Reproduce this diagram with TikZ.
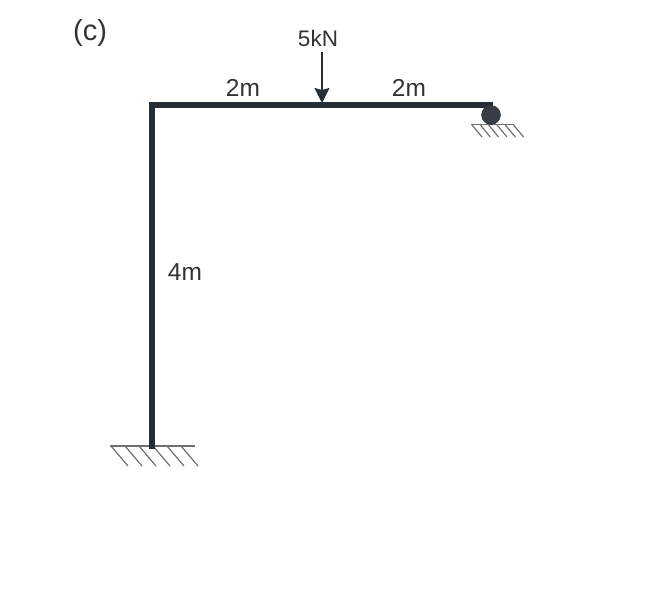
\documentclass[tikz,border=0pt]{standalone}
\usepackage{fontspec}
\setmainfont{Liberation Sans}
\usetikzlibrary{arrows.meta}
\definecolor{beamcol}{HTML}{262D35}
\definecolor{labelcol}{HTML}{333333}
\definecolor{hatchcol}{HTML}{707070}
\tikzset{
  frame/.style={line width=5.5pt,draw=beamcol,line cap=rect},
  hatch/.style={line width=1.2pt,draw=hatchcol},
  lab/.style={text=labelcol,inner sep=0pt,font=\fontsize{24.5}{24}\selectfont},
}
\begin{document}
\begin{tikzpicture}[x=1pt,y=-1pt]
\def\l{15pt}
\def\w{15pt}
\useasboundingbox (0,0) rectangle (652,589);
\coordinate (base) at (152,446);
\coordinate (corner) at (152,105);
\coordinate (tip) at (490,105);
\coordinate (load) at (322,52);
\coordinate (mid) at (322,103);
%fixed support
\draw [hatch] (110,446) -- (195,446);
\foreach \x in {111,125,139,153,167,181}
  \draw [hatch] (\x,446) -- ++(17,20);
%roller support
\draw [hatch] (471,124.5) -- (514,124.5);
\foreach \x in {472,480.3,488.6,497,505.3,513.6}
  \draw [hatch] (\x,125) -- ++(10,12);
\draw [frame] (base) -- (corner) -- (tip);
\node [draw=beamcol,fill=beamcol!92!white,circle,inner sep=0pt,minimum size=19pt,name=roller] at (491,115) {};
\draw [-{Stealth[length=\l, width=\w, inset=2pt]},line width=1.8pt,draw=beamcol,fill=beamcol](load) -- (mid);
\node [lab,name=c] at (90,33) {\fontsize{29}{29}\selectfont (c)};
\node [lab,name=force] at (318,38) {\fontsize{22.5}{24}\selectfont 5kN};
\node [lab,name=left] at (243,88) {2m};
\node [lab,name=right] at (409,88) {2m};
\node [lab,name=height] at (185,272) {4m};
\end{tikzpicture}
\end{document}
